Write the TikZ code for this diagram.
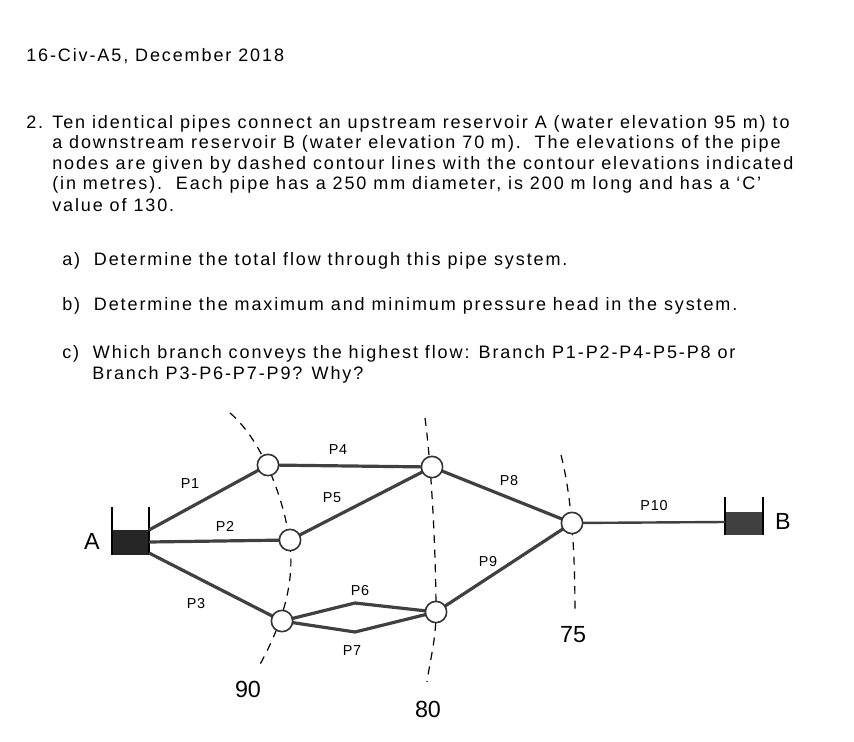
\documentclass[tikz,border=0pt]{standalone}
\usepackage{fontspec}
\setmainfont{Liberation Sans}
\newfontfamily\spaced[LetterSpace=10.5]{Liberation Sans}
\newfontfamily\lspaced[LetterSpace=6]{Liberation Sans}
\begin{document}
\begin{tikzpicture}[x=0.75pt,y=-0.75pt,
  txt/.style={anchor=base west,inner sep=0,font=\spaced\fontsize{13.5}{15}\selectfont},
  lbl/.style={inner sep=0,font=\lspaced\fontsize{10.8}{12}\selectfont},
  num/.style={inner sep=0,font=\fontsize{17.5}{19}\selectfont},
  jn/.style={circle,draw=black!80,line width=1.2pt,fill=white,minimum size=16pt,inner sep=0},
  pipe/.style={line width=2.4pt,draw=black!75},
  cont/.style={dashed,line width=0.9pt,dash pattern=on 6pt off 5pt}]
\useasboundingbox (0,0) rectangle (854,742);
\node[txt] (h) at (26,62) {16-Civ-A5, December 2018};
\node[txt] (q1) at (26,128) {2. Ten identical pipes connect an upstream reservoir A (water elevation 95 m) to};
\node[txt] (q2) at (52,149) {a downstream reservoir B (water elevation 70 m).\ \ The elevations of the pipe};
\node[txt] (q3) at (52,170) {nodes are given by dashed contour lines with the contour elevations indicated};
\node[txt] (q4) at (52,190) {(in metres).\ \ Each pipe has a 250 mm diameter, is 200 m long and has a ‘C’};
\node[txt] (q5) at (52,211) {value of 130.};
\node[txt] (qa) at (62,265) {a)\ \ Determine the total flow through this pipe system.};
\node[txt] (qb) at (62,310) {b)\ \ Determine the maximum and minimum pressure head in the system.};
\node[txt] (qc) at (62,358) {c)\ \ Which branch conveys the highest flow: Branch P1-P2-P4-P5-P8 or};
\node[txt] (qc2) at (92,379) {Branch P3-P6-P7-P9? Why?};
% contours
\draw[cont] (230,413) .. controls (262,440) and (285,500) .. (290,545) .. controls (294,580) and (285,620) .. (258,668);
\draw[cont] (425,418) .. controls (432,470) and (436,560) .. (436,612) .. controls (436,640) and (430,660) .. (427,682);
\draw[cont] (561,455) .. controls (570,490) and (575,540) .. (575,612);
\node[num] (l90) at (248,689) {90};
\node[num] (l80) at (428,709) {80};
\node[num] (l75) at (573,635) {75};
% reservoirs
\fill[black!85] (112,530) rectangle (150,555);
\draw[line width=1.3pt] (112,507) -- (112,555);
\draw[line width=1.3pt] (149,507) -- (149,555);
\coordinate (Atop) at (149,530);
\coordinate (Amid) at (149,542);
\coordinate (Abot) at (149,553);
\fill[black!75] (725,512) rectangle (763,535);
\draw[line width=1.3pt] (725,497) -- (725,535);
\draw[line width=1.3pt] (763,497) -- (763,535);
\coordinate (Bin) at (725,522);
\node[num] (A) at (92,541) {A};
\node[num] (B) at (783,521) {B};
% pipes
\coordinate (N1c) at (268,465);
\coordinate (N2c) at (290,540);
\coordinate (N3c) at (282,621);
\coordinate (N4c) at (432,467);
\coordinate (N5c) at (436,612);
\coordinate (N6c) at (572,523);
\draw[pipe] (Atop) -- (N1c);
\draw[pipe] (Amid) -- (N2c);
\draw[pipe] (Abot) -- (N3c);
\draw[pipe] (N1c) -- (N4c);
\draw[pipe] (N2c) -- (N4c);
\draw[pipe] (N3c) -- (355,603) -- (N5c);
\draw[pipe] (N3c) -- (355,632) -- (N5c);
\draw[pipe] (N4c) -- (N6c);
\draw[pipe] (N5c) -- (N6c);
\draw[pipe,line width=1.8pt] (N6c) -- (Bin);
\node[jn] (N1) at (N1c) {};
\node[jn] (N2) at (N2c) {};
\node[jn] (N3) at (N3c) {};
\node[jn] (N4) at (N4c) {};
\node[jn] (N5) at (N5c) {};
\node[jn] (N6) at (N6c) {};
\node[lbl] (p1) at (190,484) {P1};
\node[lbl] (p2) at (225,526) {P2};
\node[lbl] (p3) at (196,604) {P3};
\node[lbl] (p4) at (338,450) {P4};
\node[lbl] (p5) at (332,498) {P5};
\node[lbl] (p6) at (360,591) {P6};
\node[lbl] (p7) at (352,651) {P7};
\node[lbl] (p8) at (509,481) {P8};
\node[lbl] (p9) at (488,562) {P9};
\node[lbl] (p10) at (654,506) {P10};
\end{tikzpicture}
\end{document}
